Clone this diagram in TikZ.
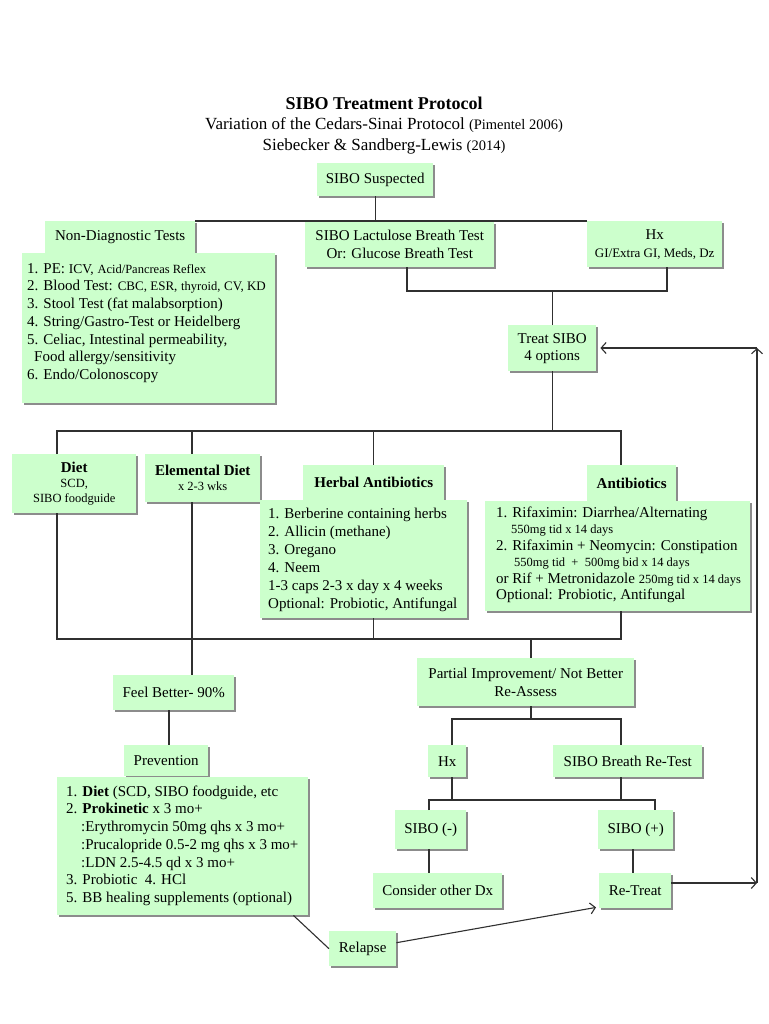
\documentclass[tikz,border=0pt]{standalone}
\usepackage{fontspec}
\setmainfont{Liberation Serif}
\usetikzlibrary{arrows.meta,shadows,calc}
\definecolor{boxgreen}{HTML}{CCFFCC}
\definecolor{lncol}{HTML}{303030}
\newcommand\fsm{\fontsize{12.5}{15}\selectfont}
\newcommand\fsb{\fontsize{13}{16}\selectfont}
\newcommand\fmd{\fontsize{13.5}{16}\selectfont}
\newcommand\listtext[4]{\parbox{#1}{\raggedright\leftskip=#2\fontsize{15}{#3}\selectfont #4}}
\begin{document}
\begin{tikzpicture}[x=1pt,y=-1pt,
  bx/.style={fill=boxgreen, drop shadow={shadow xshift=2pt,shadow yshift=-2pt,fill=black!45,opacity=1},
    inner sep=0pt, anchor=north west, align=center, font=\fontsize{15}{18}\selectfont},
  lst/.style={fill=boxgreen, drop shadow={shadow xshift=2pt,shadow yshift=-2pt,fill=black!45,opacity=1},
    inner sep=0pt, anchor=north west},
  ln/.style={draw=lncol, line width=1.1pt},
  arr/.style={ln, -{Straight Barb[length=5pt,width=11pt]}}]
\useasboundingbox[fill=white] (0,0) rectangle (768,1024);

% titles
\node[font=\bfseries\fontsize{18}{20}\selectfont] (title) at (384,103) {SIBO Treatment Protocol};
\node[font=\fontsize{17}{20}\selectfont] (sub1) at (384,125) {Variation of the Cedars-Sinai Protocol {\fontsize{14.5}{17}\selectfont (Pimentel 2006)}};
\node[font=\fontsize{17}{20}\selectfont] (sub2) at (384,146) {Siebecker \& Sandberg-Lewis {\fontsize{14.5}{17}\selectfont (2014)}};

% top boxes
\node[bx, minimum width=116pt, minimum height=33pt] (susp) at (317,163) {SIBO Suspected};
\node[bx, minimum width=150pt, minimum height=32pt] (nd) at (45,221) {Non-Diagnostic Tests};
\node[lst] (ndl) at (22,253)
 {\listtext{253pt}{5pt}{17.7}{\rule{0pt}{20pt}1. PE: {\fmd ICV,} {\fsm Acid/Pancreas Reflex}\\
  2. Blood Test: {\fsb CBC, ESR,} {\fsm thyroid,} {\fsb CV, KD}\\
  3. Stool Test (fat malabsorption)\\
  4. String/Gastro-Test or Heidelberg\\
  5. Celiac, Intestinal permeability,\\
  \hspace*{7pt}Food allergy/sensitivity\\
  6. Endo/Colonoscopy\rule[-23.8pt]{0pt}{0pt}}};
\node[bx, minimum width=189pt, minimum height=45pt] (lact) at (305,222) {SIBO Lactulose Breath Test\\Or: Glucose Breath Test};
\node[bx, minimum width=135pt, minimum height=46pt] (hx1) at (587,221) {Hx\\{\fsb GI/Extra GI, Meds, Dz}};
\node[bx, minimum width=88pt, minimum height=46pt, font=\fontsize{15}{17}\selectfont] (treat) at (508,325) {Treat SIBO\\4 options};

% four options
\node[bx, minimum width=124pt, minimum height=59pt, font=\fontsize{15}{15}\selectfont] (diet) at (12,454) {\textbf{Diet}\\{\fsm SCD,}\\{\fsm SIBO foodguide}};
\node[bx, minimum width=115pt, minimum height=48pt, font=\fontsize{15}{15}\selectfont] (elem) at (145,454) {\textbf{Elemental Diet}\\{\fsm x 2-3 wks}};
\node[bx, minimum width=141pt, minimum height=35pt] (herbh) at (303,465) {\textbf{Herbal Antibiotics}};
\node[lst] (herbl) at (260,500)
 {\listtext{207pt}{8pt}{18}{\rule{0pt}{18pt}1. Berberine containing herbs\\
  2. Allicin (methane)\\
  3. Oregano\\
  4. Neem\\
  1-3 caps 2-3 x day x 4 weeks\\
  Optional: Probiotic, Antifungal\rule[-10pt]{0pt}{0pt}}};
\node[bx, minimum width=89pt, minimum height=36pt] (antih) at (587,465) {\textbf{Antibiotics}};
\node[lst] (antil) at (485,501)
 {\listtext{265pt}{11pt}{16.5}{\rule{0pt}{16pt}1. Rifaximin: Diarrhea/Alternating\\
  \hspace*{15pt}{\fsm 550mg tid x 14 days}\\
  2. Rifaximin + Neomycin: Constipation\\
  \hspace*{18pt}{\fsm 550mg tid\ \ + \ 500mg bid x 14 days}\\
  or Rif + Metronidazole {\fsm 250mg tid x 14 days}\\
  Optional: Probiotic, Antifungal\rule[-11.5pt]{0pt}{0pt}}};

% outcomes
\node[bx, minimum width=121pt, minimum height=35pt] (feel) at (113,675) {Feel Better- 90\%};
\node[bx, minimum width=84pt, minimum height=31pt] (prevh) at (124,745) {Prevention};
\node[lst] (prevl) at (57,777)
 {\listtext{251pt}{9pt}{17.7}{\rule{0pt}{19pt}1. \textbf{Diet} (SCD, SIBO foodguide, etc\\
  2. \textbf{Prokinetic} x 3 mo+\\
  \hspace*{15pt}:Erythromycin 50mg qhs x 3 mo+\\
  \hspace*{15pt}:Prucalopride 0.5-2 mg qhs x 3 mo+\\
  \hspace*{15pt}:LDN 2.5-4.5 qd x 3 mo+\\
  3. Probiotic\ \ 4. HCl\\
  5. BB healing supplements (optional)\rule[-12.8pt]{0pt}{0pt}}};
\node[bx, minimum width=67pt, minimum height=35pt] (relapse) at (329,931) {Relapse};
\node[bx, minimum width=217pt, minimum height=48pt] (partial) at (417,658) {Partial Improvement/ Not Better\\Re-Assess};
\node[bx, minimum width=38pt, minimum height=32pt] (hx2) at (428,745) {Hx};
\node[bx, minimum width=149pt, minimum height=32pt] (retest) at (553,745) {SIBO Breath Re-Test};
\node[bx, minimum width=71pt, minimum height=39pt] (neg) at (395,810) {SIBO (-)};
\node[bx, minimum width=75pt, minimum height=39pt] (pos) at (598,810) {SIBO (+)};
\node[bx, minimum width=129pt, minimum height=35pt] (consider) at (373,873) {Consider other Dx};
\node[bx, minimum width=72pt, minimum height=35pt] (retreat) at (599,873) {Re-Treat};

% connectors top
\draw[ln] (susp.south) -- (susp.south |- nd.north);
\draw[ln] (nd.north east) -- (hx1.north west);
\coordinate (j1) at (407,291);
\coordinate (j2) at (667,291);
\draw[ln] (lact.south -| j1) -- (j1) -- (j2) -- (hx1.south -| j2);
\draw[ln] (treat.north) -- (treat.north |- j1);

% bus to options
\coordinate (b1) at (57,431);
\coordinate (b2) at (192,431);
\coordinate (b4) at (621,431);
\draw[ln] (treat.south) -- (treat.south |- b1);
\draw[ln] (b1 |- diet.north) -- (b1) -- (b4) -- (b4 |- antih.north);
\draw[ln] (b2) -- (b2 |- elem.north);
\draw[ln] (herbh.north |- b1) -- (herbh.north);

% bus from options
\coordinate (c1) at (57,639);
\coordinate (c4) at (621,639);
\coordinate (c5) at (531,639);
\draw[ln] (c1 |- diet.south) -- (c1) -- (c4) -- (c4 |- antil.south);
\draw[ln] (b2 |- elem.south) -- (b2 |- feel.north);
\draw[ln] (herbh.north |- herbl.south) -- (herbh.north |- c1);
\draw[ln] (c5) -- (c5 |- partial.north);

% feel better -> prevention
\coordinate (f1) at (169,700);
\draw[ln] (f1 |- feel.south) -- (f1 |- prevh.north);

% partial improvement branch
\coordinate (p1) at (452,719);
\coordinate (p2) at (621,719);
\draw[ln] (c5 |- partial.south) -- (c5 |- p1);
\draw[ln] (p1 |- hx2.north) -- (p1) -- (p2) -- (p2 |- retest.north);
\coordinate (q1) at (429,800);
\coordinate (q2) at (655,800);
\draw[ln] (p1 |- hx2.south) -- (p1 |- q1);
\draw[ln] (p2 |- retest.south) -- (p2 |- q1);
\draw[ln] (q1 |- neg.north) -- (q1) -- (q2) -- (q2 |- pos.north);
\draw[ln] (q1 |- neg.south) -- (q1 |- consider.north);
\coordinate (s1) at (633,860);
\draw[ln] (s1 |- pos.south) -- (s1 |- retreat.north);

% relapse and re-treat loop
\draw[ln] ($(prevl.south east)+(-15,0)$) -- (relapse.west);
\draw[arr] ($(relapse.east)+(0,-6)$) -- ($(retreat.south west)+(-3,-1)$);
\coordinate (r1) at (757,883);
\coordinate (r2) at (757,348);
\draw[arr] (retreat.east |- r1) -- (r1);
\draw[arr] (r1) -- (r2);
\draw[arr] (r2) -- ($(treat.east |- r2)+(4,0)$);
\end{tikzpicture}
\end{document}
